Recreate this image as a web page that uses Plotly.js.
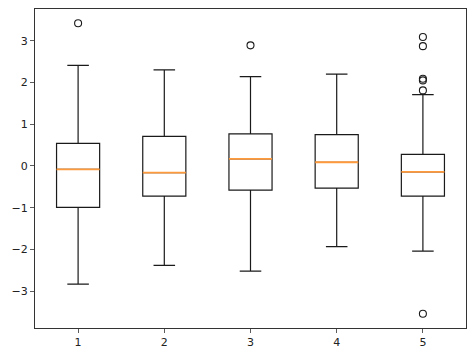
<!DOCTYPE html>
<html>
<head>
<meta charset="utf-8">
<script src="https://cdn.plot.ly/plotly-3.0.1.min.js"></script>
<style>html,body{margin:0;padding:0;background:#fff;}#chart{width:474px;height:358px;}</style>
</head>
<body>
<div id="chart"></div>
<script>
const positions = [1, 2, 3, 4, 5];
const lowerWhisker = [-2.83, -2.38, -2.52, -1.93, -2.04];
const q1Values = [-0.99, -0.72, -0.58, -0.53, -0.72];
const medianValues = [-0.08, -0.16, 0.17, 0.09, -0.14];
const q3Values = [0.54, 0.71, 0.77, 0.75, 0.28];
const upperWhisker = [2.41, 2.30, 2.14, 2.20, 1.71];
const outlierX = [1, 3, 5, 5, 5, 5, 5, 5];
const outlierY = [3.42, 2.89, 3.09, 2.87, 2.09, 2.05, 1.81, -3.54];
const tickLabels = ['1', '2', '3', '4', '5'];

const boxWidth = 0.5;
const medX = [], medY = [];
positions.forEach((p, i) => {
  medX.push(p - boxWidth / 2, p + boxWidth / 2, null);
  medY.push(medianValues[i], medianValues[i], null);
});

const traces = [
  {
    type: 'box',
    x: positions,
    q1: q1Values,
    median: medianValues,
    q3: q3Values,
    lowerfence: lowerWhisker,
    upperfence: upperWhisker,
    width: boxWidth,
    whiskerwidth: 0.5,
    fillcolor: 'rgba(255,255,255,0)',
    line: {color: '#1a1a1a', width: 1.2},
    boxpoints: false,
    hoverinfo: 'skip',
    showlegend: false
  },
  {
    type: 'scatter',
    mode: 'lines',
    x: medX,
    y: medY,
    line: {color: '#ff9a3c', width: 1.8},
    hoverinfo: 'skip',
    showlegend: false
  },
  {
    type: 'scatter',
    mode: 'markers',
    x: outlierX,
    y: outlierY,
    marker: {symbol: 'circle-open', size: 7, color: '#1a1a1a', line: {width: 1.1, color: '#1a1a1a'}},
    hoverinfo: 'skip',
    showlegend: false
  }
];

const layout = {
  width: 474,
  height: 358,
  margin: {l: 35, r: 8, t: 9, b: 30},
  paper_bgcolor: '#ffffff',
  plot_bgcolor: '#ffffff',
  font: {family: 'DejaVu Sans', size: 11, color: '#222222'},
  showlegend: false,
  xaxis: {
    type: 'linear',
    range: [0.5, 5.5],
    tickvals: positions,
    ticktext: tickLabels,
    tickfont: {family: 'DejaVu Sans', size: 11, color: '#222222'},
    ticks: 'outside',
    ticklen: 4,
    tickwidth: 0.8,
    tickcolor: '#333333',
    showgrid: false,
    zeroline: false,
    showline: true,
    mirror: true,
    linecolor: '#333333',
    linewidth: 1
  },
  yaxis: {
    range: [-3.88, 3.76],
    tickvals: [-3, -2, -1, 0, 1, 2, 3],
    ticktext: ['\u22123', '\u22122', '\u22121', '0', '1', '2', '3'],
    tickfont: {family: 'DejaVu Sans', size: 11, color: '#222222'},
    ticks: 'outside',
    ticklen: 4,
    tickwidth: 0.8,
    tickcolor: '#333333',
    showgrid: false,
    zeroline: false,
    showline: true,
    mirror: true,
    linecolor: '#333333',
    linewidth: 1
  }
};

Plotly.newPlot('chart', traces, layout, {displayModeBar: false, staticPlot: true});
</script>
</body>
</html>
